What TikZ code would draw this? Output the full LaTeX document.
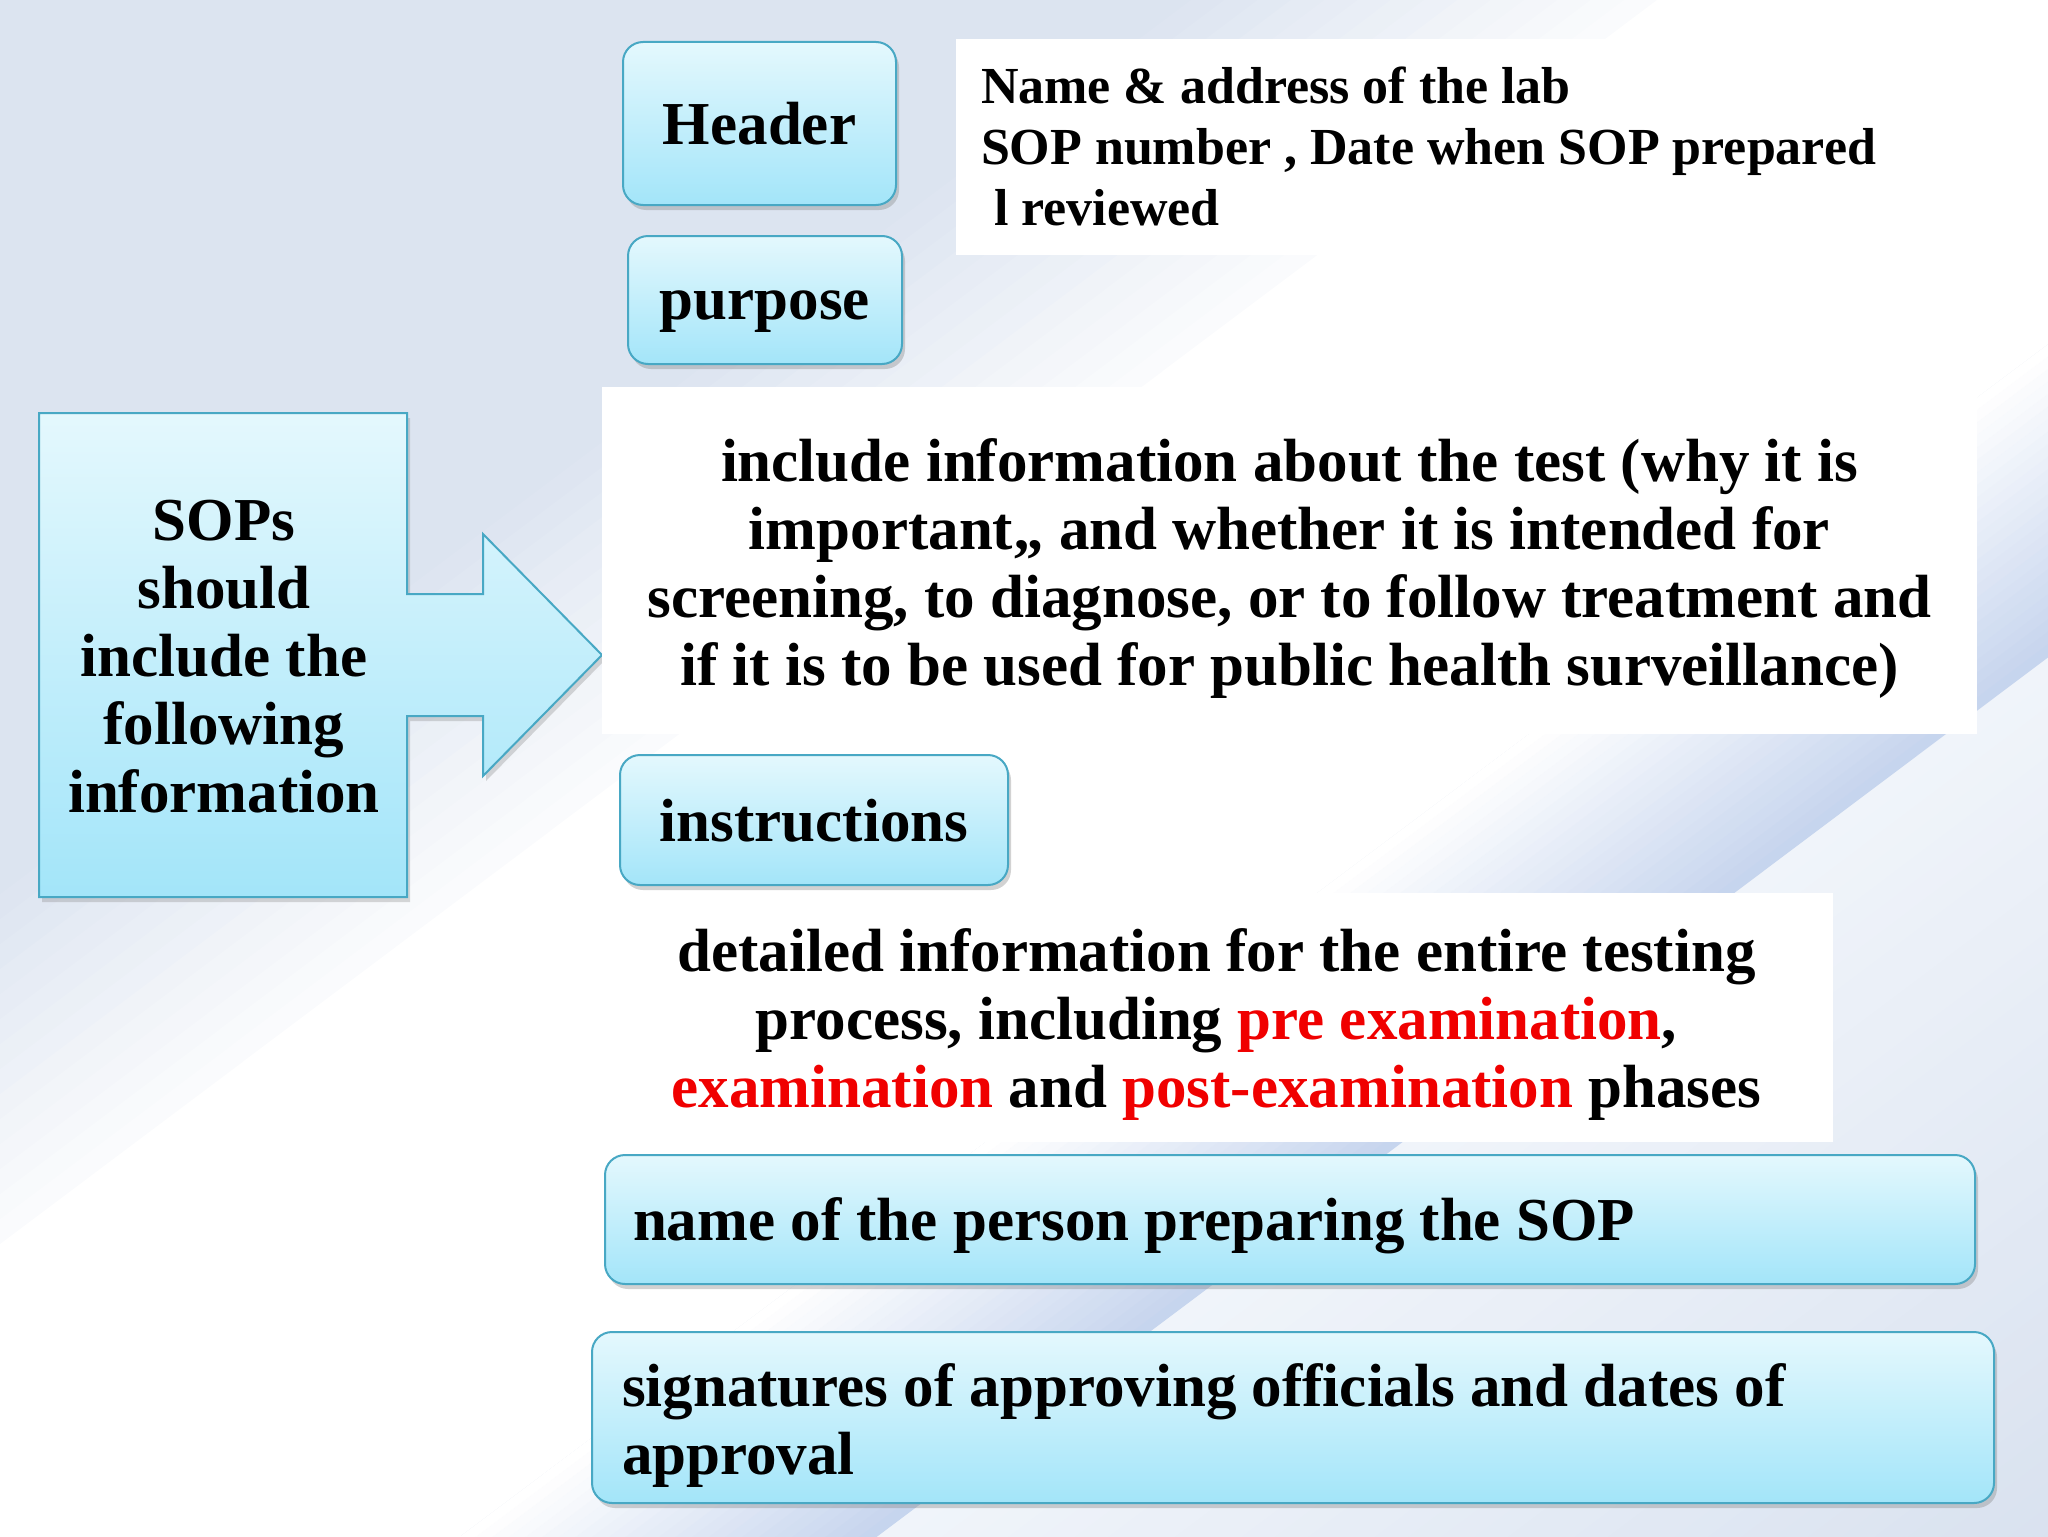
\documentclass[tikz,border=0pt]{standalone}
\usepackage{fontspec}
\setmainfont{Liberation Serif}
\usetikzlibrary{shadows}
\definecolor{bgbase}{RGB}{220,228,240}
\definecolor{bandblue}{RGB}{196,211,237}
\definecolor{farblue}{RGB}{216,225,239}
\definecolor{paleblue}{RGB}{240,244,250}
\definecolor{boxtop}{RGB}{228,248,253}
\definecolor{boxbot}{RGB}{163,229,249}
\definecolor{boxline}{RGB}{72,168,196}
\definecolor{hot}{RGB}{240,0,0}
\newcommand{\bigfont}{\fontsize{30.5}{34}\selectfont\bfseries}
\newcommand{\smallfont}{\fontsize{26}{30.5}\selectfont\bfseries}
\begin{document}
\begin{tikzpicture}[x=0.5pt,y=-0.5pt]
\tikzstyle{box}=[draw=boxline, line width=1pt, top color=boxtop, bottom color=boxbot, rounded corners=10pt, drop shadow={opacity=0.35, shadow xshift=1.5pt, shadow yshift=-2.5pt}, inner sep=0pt, font=\bigfont, text height=24pt, text depth=3pt];
\tikzstyle{note}=[fill=white, inner sep=0pt, font=\bigfont, align=center];
\useasboundingbox (0,0) rectangle (2048,1536);
\clip (0,0) rectangle (2048,1536);
% background with the diagonal light band
\fill[bgbase] (0,0) rectangle (2048,1536);
\begin{scope}[shift={(877,1536)}, rotate=36.9]
\foreach \v in {-1060,-1040,...,-760} {
  \pgfmathtruncatemacro\p{(\v+1060)/3.2}
  \fill[white!\p!bgbase] (-800,\v) rectangle (1950,\v+22);
}
\fill[white] (-800,-760) rectangle (1950,-250);
\foreach \v in {0,20,...,700} {
  \pgfmathtruncatemacro\p{\v/7.2}
  \fill[farblue!\p!paleblue] (-800,\v) rectangle (1950,\v+22);
}
\foreach \v in {-250,-240,...,-10} {
  \pgfmathtruncatemacro\p{(\v+250)/2.5}
  \fill[bandblue!\p!white] (-800,\v) rectangle (1950,\v+10.5);
}
\end{scope}
% left block with its arrow
\path[draw=boxline, line width=1pt, top color=boxtop, bottom color=boxbot, drop shadow={opacity=0.3, shadow xshift=1.5pt, shadow yshift=-2.5pt}]
  (39,413) -- (407,413) -- (407,594) -- (483,594) -- (483,534) -- (602,655)
  -- (483,776) -- (483,716) -- (407,716) -- (407,897) -- (39,897) -- cycle;
\node[font=\bigfont, align=center] (sops) at (224,657) {SOPs\\should\\include the\\following\\information};
% items
\node[box, minimum width=136.5pt, minimum height=81.5pt] (header) at (759.5,123.5) {Header};
\node[box, minimum width=137pt, minimum height=64pt, text depth=5pt] (purpose) at (765,300) {purpose};
\node[note, font=\smallfont, align=flush left, text width=452pt, inner xsep=12.5pt, minimum height=108pt, text height=23.5pt, text depth=67pt] (labinfo) at (1433,147) {Name \& address of the lab\\SOP number , Date when SOP prepared\\\hspace*{0.25em}l reviewed};
\node[note, minimum width=687.5pt, minimum height=173.5pt, text height=131.5pt, text depth=7pt] (about) at (1289.5,560.5) {include information about the test (why it is\\important,, and whether it is intended for\\screening, to diagnose, or to follow treatment and\\if it is to be used for public health surveillance)};
\node[box, minimum width=194pt, minimum height=65pt] (instr) at (814,820) {instructions};
\node[note, minimum width=616.5pt, minimum height=124.5pt, text height=96.5pt, text depth=7pt] (detail) at (1216.5,1017.5) {detailed information for the entire testing\\process, including \textcolor{hot}{pre examination},\\\textcolor{hot}{examination} and \textcolor{hot}{post-examination} phases};
\node[box, text width=657pt, inner xsep=14pt, minimum height=64.5pt, align=flush left] (author) at (1290,1219.5) {name of the person preparing the SOP};
\node[box, text width=671pt, inner xsep=15pt, minimum height=85.5pt, align=flush left, text height=30pt, text depth=41pt] (approval) at (1293,1417.5) {signatures of approving officials and dates of\\approval};
\end{tikzpicture}
\end{document}
